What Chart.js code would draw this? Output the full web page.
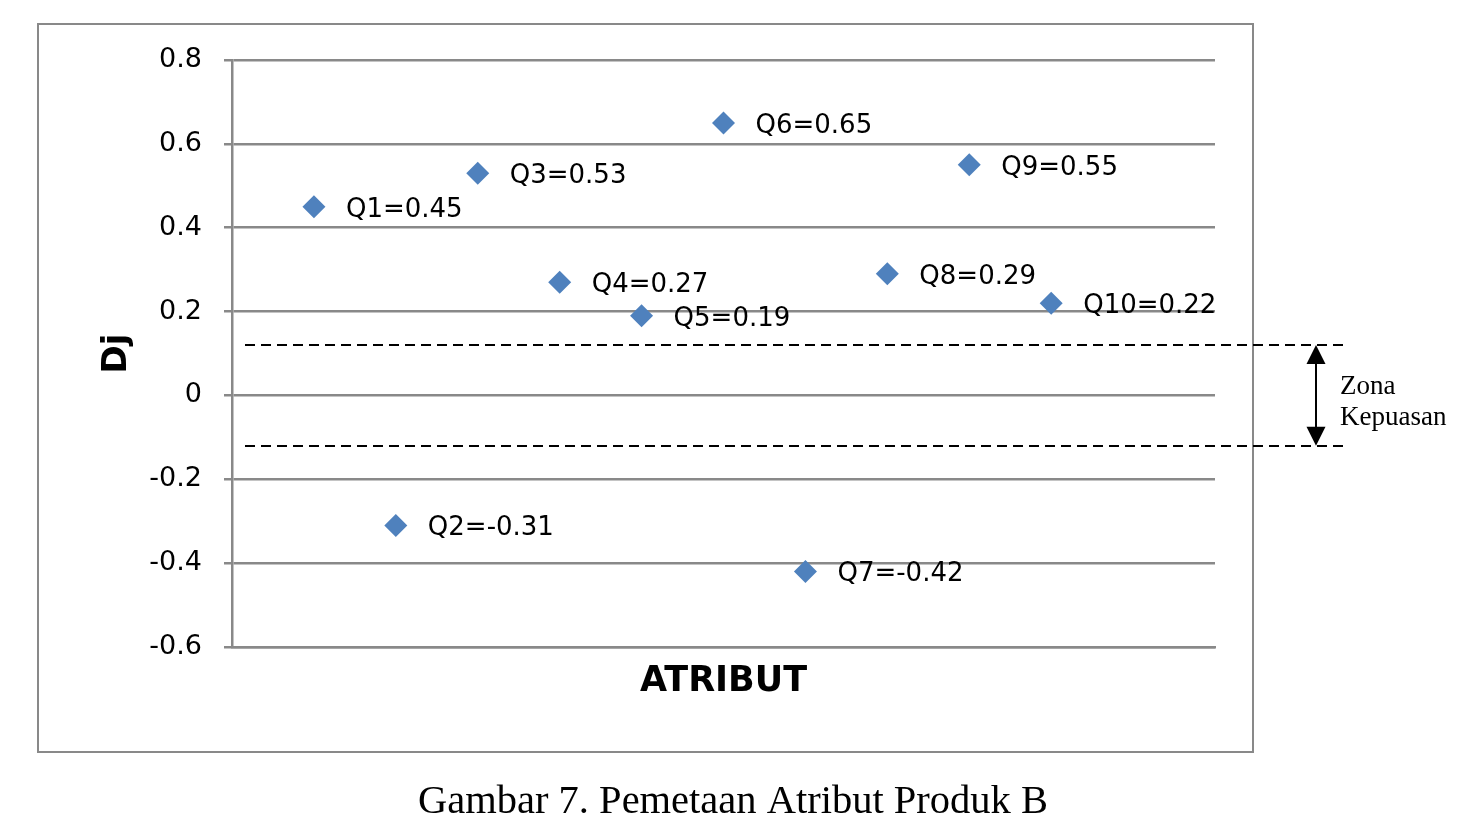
<!DOCTYPE html>
<html>
<head>
<meta charset="utf-8">
<script src="https://cdn.jsdelivr.net/npm/chart.js@4.4.1/dist/chart.umd.min.js"></script>
<style>
  html, body { margin: 0; padding: 0; background: #ffffff; }
  #wrap { position: relative; width: 1472px; height: 840px; }
</style>
</head>
<body>
<div id="wrap"><canvas id="c" width="1472" height="840"></canvas></div>
<script>
// ---- data ----
const attributes = ['Q1', 'Q2', 'Q3', 'Q4', 'Q5', 'Q6', 'Q7', 'Q8', 'Q9', 'Q10'];
const djValues = [0.45, -0.31, 0.53, 0.27, 0.19, 0.65, -0.42, 0.29, 0.55, 0.22];
const yTickValues = [-0.6, -0.4, -0.2, 0, 0.2, 0.4, 0.6, 0.8];
const yTickLabels = ['-0.6', '-0.4', '-0.2', '0', '0.2', '0.4', '0.6', '0.8'];
const satisfactionZone = [-0.12, 0.12];
const zoneLabel = ['Zona', 'Kepuasan'];
const yTitle = 'Dj';
const xTitle = 'ATRIBUT';
const caption = 'Gambar 7. Pemetaan Atribut Produk B';

const points = attributes.map((a, i) => ({ x: i + 1, y: djValues[i] }));

const GRID = '#898989';
const SANS = '"DejaVu Sans", sans-serif';
const SERIF = '"Liberation Serif", "DejaVu Serif", serif';

const decor = {
  id: 'decor',
  beforeDraw(chart) {
    const ctx = chart.ctx;
    ctx.save();
    ctx.fillStyle = '#ffffff';
    ctx.fillRect(0, 0, chart.width, chart.height);
    // outer chart border
    ctx.strokeStyle = GRID;
    ctx.lineWidth = 2;
    ctx.strokeRect(38, 24, 1215, 728);
    ctx.restore();
  },
  afterDatasetsDraw(chart) {
    const ctx = chart.ctx;
    const xs = chart.scales.x, ys = chart.scales.y;
    ctx.save();
    // point labels
    ctx.font = '26px ' + SANS;
    ctx.fillStyle = '#000000';
    ctx.textAlign = 'left';
    ctx.textBaseline = 'middle';
    attributes.forEach((a, i) => {
      const px = xs.getPixelForValue(i + 1);
      const py = ys.getPixelForValue(djValues[i]);
      ctx.fillText(a + '=' + djValues[i], px + 32, py + 3);
    });
    // satisfaction zone dashed lines
    ctx.strokeStyle = '#000000';
    ctx.lineWidth = 2;
    ctx.setLineDash([10, 6]);
    const yTop = ys.getPixelForValue(satisfactionZone[1]);
    const yBot = ys.getPixelForValue(satisfactionZone[0]);
    [yTop, yBot].forEach(y => {
      ctx.beginPath();
      ctx.moveTo(245, Math.round(y));
      ctx.lineTo(1347, Math.round(y));
      ctx.stroke();
    });
    ctx.setLineDash([]);
    // double-headed arrow
    const ax = 1316;
    ctx.beginPath();
    ctx.moveTo(ax, yTop + 16);
    ctx.lineTo(ax, yBot - 16);
    ctx.stroke();
    ctx.fillStyle = '#000000';
    ctx.beginPath();
    ctx.moveTo(ax, yTop);
    ctx.lineTo(ax - 9.5, yTop + 19);
    ctx.lineTo(ax + 9.5, yTop + 19);
    ctx.closePath();
    ctx.fill();
    ctx.beginPath();
    ctx.moveTo(ax, yBot);
    ctx.lineTo(ax - 9.5, yBot - 19);
    ctx.lineTo(ax + 9.5, yBot - 19);
    ctx.closePath();
    ctx.fill();
    // zone label
    ctx.font = '27px ' + SERIF;
    ctx.textBaseline = 'alphabetic';
    ctx.fillText(zoneLabel[0], 1340, 394);
    ctx.fillText(zoneLabel[1], 1340, 425);
    // caption
    ctx.font = '40.5px ' + SERIF;
    ctx.textAlign = 'center';
    ctx.fillText(caption, 733, 813);
    ctx.restore();
  }
};

new Chart(document.getElementById('c'), {
  type: 'scatter',
  data: {
    datasets: [{
      label: 'Dj',
      data: points,
      pointStyle: 'rectRot',
      pointRadius: 11.5,
      pointHoverRadius: 11.5,
      backgroundColor: '#4F81BD',
      borderColor: '#4F81BD',
      borderWidth: 0
    }]
  },
  options: {
    responsive: false,
    animation: false,
    events: [],
    layout: { padding: { left: 97, right: 257, top: 60, bottom: 137 } },
    plugins: {
      legend: { display: false },
      tooltip: { enabled: false },
      title: { display: false }
    },
    scales: {
      x: {
        type: 'linear',
        min: 0,
        max: 12,
        grid: { display: false },
        border: { display: true, color: GRID, width: 2.5 },
        ticks: { display: false },
        title: {
          display: true,
          text: xTitle,
          color: '#000000',
          font: { family: SANS, size: 35, weight: 'bold' },
          padding: 0
        },
        afterFit(scale) { scale.height = 56; }
      },
      y: {
        min: -0.6,
        max: 0.8,
        afterBuildTicks(scale) { scale.ticks = yTickValues.map(v => ({ value: v })); },
        ticks: {
          color: '#000000',
          font: { family: SANS, size: 27 },
          padding: 22,
          callback: (v) => {
            const i = yTickValues.findIndex(t => Math.abs(t - v) < 1e-9);
            return i >= 0 ? yTickLabels[i] : '';
          }
        },
        grid: { color: GRID, lineWidth: 2.5, tickLength: 8, drawTicks: true },
        border: { display: true, color: GRID, width: 2.5 },
        title: {
          display: true,
          text: yTitle,
          color: '#000000',
          font: { family: SANS, size: 34, weight: 'bold' },
          padding: 0
        },
        afterFit(scale) { scale.width = 135; }
      }
    }
  },
  plugins: [decor]
});
</script>
</body>
</html>
